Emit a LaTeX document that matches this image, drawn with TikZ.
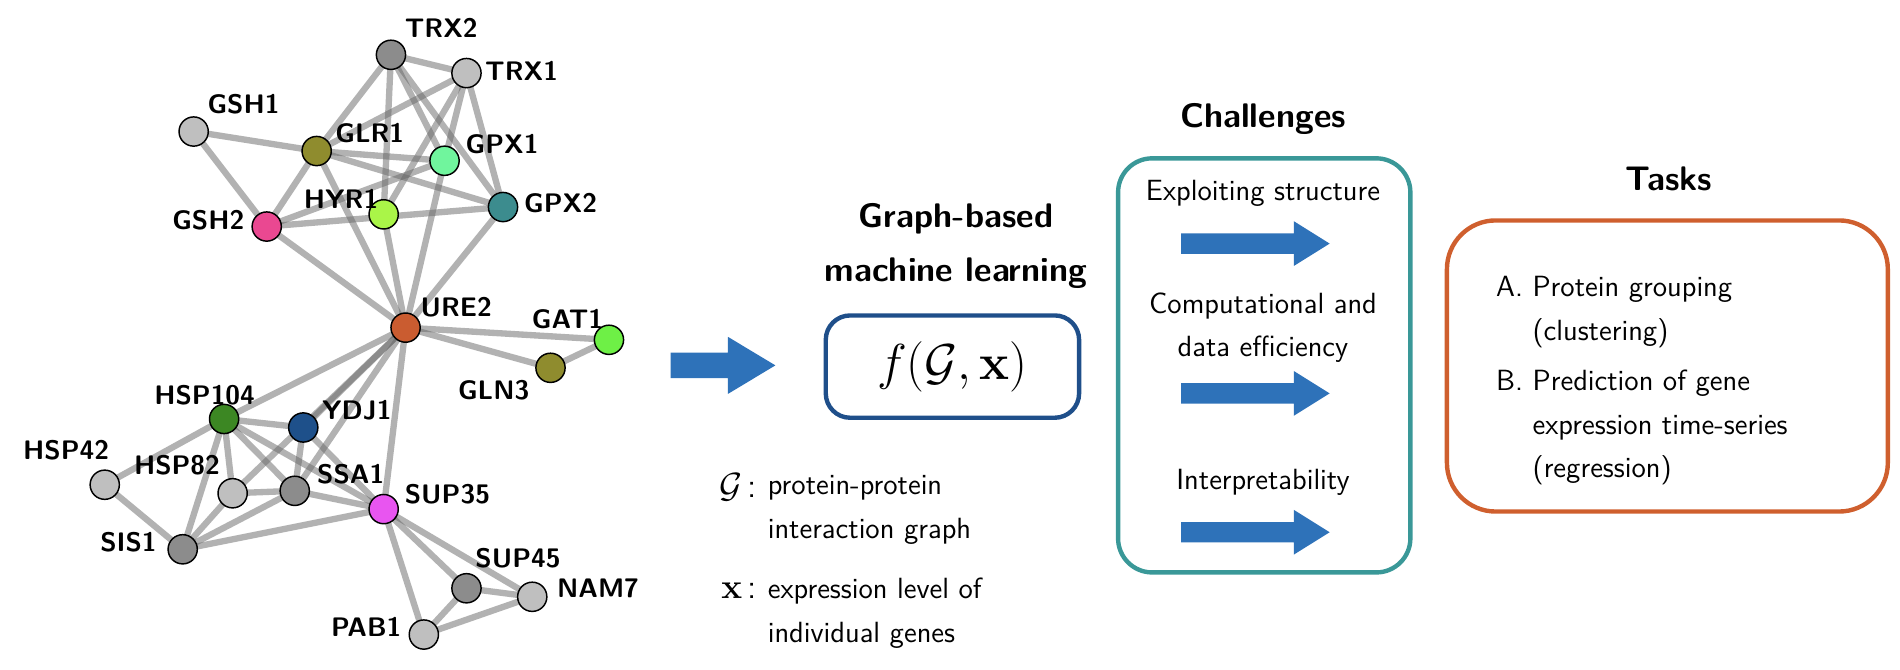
\documentclass[tikz,border=0pt]{standalone}
\usetikzlibrary{shapes.arrows}
\definecolor{ablue}{HTML}{2E72B9}
\definecolor{dblue}{HTML}{1F4F8A}
\definecolor{teal2}{HTML}{3A9898}
\definecolor{orng}{HTML}{CF5F2E}
\begin{document}
\begin{tikzpicture}[x=0.5pt,y=-0.5pt,font=\sffamily,
 nd/.style={circle,draw=black,line width=0.6pt,minimum size=12pt,inner sep=0pt,fill=#1},
 lb/.style={font=\sffamily\bfseries\fontsize{11}{13}\selectfont,inner sep=1pt},
 ed/.style={draw=black!60,opacity=0.5,line width=2.6pt},
 bar/.style={single arrow,fill=ablue,draw=none,minimum height=61pt,minimum width=18pt,single arrow head extend=5pt,single arrow tip angle=64,inner xsep=0pt,inner ysep=4pt},
 tx/.style={font=\sffamily\fontsize{12}{14}\selectfont,inner sep=0pt},
 ttl/.style={font=\sffamily\bfseries\fontsize{14}{16}\selectfont,inner sep=0pt}]
\useasboundingbox (0,0) rectangle (1560,550);
% nodes
\coordinate (pTRX2) at (321,45); \coordinate (pTRX1) at (383,60);
\coordinate (pGSH1) at (159,108); \coordinate (pGLR1) at (260,124);
\coordinate (pGPX1) at (365,132); \coordinate (pHYR1) at (315,176);
\coordinate (pGSH2) at (219,186); \coordinate (pGPX2) at (413,170);
\coordinate (pURE2) at (333,269); \coordinate (pGAT1) at (500,279);
\coordinate (pGLN3) at (452,302); \coordinate (pHSP104) at (184,344);
\coordinate (pYDJ1) at (249,351); \coordinate (pHSP42) at (86,398);
\coordinate (pHSP82) at (191,405); \coordinate (pSSA1) at (242,403);
\coordinate (pSUP35) at (315,418); \coordinate (pSIS1) at (150,451);
\coordinate (pSUP45) at (383,483); \coordinate (pNAM7) at (437,490);
\coordinate (pPAB1) at (348,521);
\foreach \a/\b in {TRX2/TRX1,TRX2/GLR1,TRX2/HYR1,TRX2/GPX1,TRX2/GPX2,TRX1/GLR1,TRX1/HYR1,TRX1/GPX2,TRX1/GPX1,
 GSH1/GLR1,GSH1/GSH2,GLR1/GPX1,GLR1/GPX2,GLR1/GSH2,GLR1/URE2,GSH2/GPX1,GSH2/GPX2,GSH2/URE2,HYR1/URE2,
 GPX1/URE2,GPX2/URE2,URE2/GAT1,URE2/GLN3,GLN3/GAT1,URE2/HSP104,URE2/YDJ1,URE2/HSP82,URE2/SSA1,URE2/SUP35,
 HSP104/YDJ1,HSP104/HSP42,HSP104/HSP82,HSP104/SIS1,HSP104/SSA1,HSP104/SUP35,YDJ1/SSA1,YDJ1/SUP35,
 HSP82/SSA1,HSP82/SIS1,SSA1/SIS1,SSA1/SUP35,HSP42/SIS1,SIS1/SUP35,SUP35/SUP45,SUP35/NAM7,SUP35/PAB1,
 SUP45/NAM7,SUP45/PAB1,PAB1/NAM7}
 {\draw[ed] (p\a) -- (p\b);}
\foreach \n/\c in {TRX2/black!45,TRX1/black!25,GSH1/black!25,GLR1/{rgb,255:red,143;green,140;blue,46},
 GPX1/{rgb,255:red,112;green,245;blue,157},HYR1/{rgb,255:red,170;green,245;blue,72},
 GSH2/{rgb,255:red,234;green,72;blue,145},GPX2/{rgb,255:red,60;green,140;blue,142},
 URE2/{rgb,255:red,202;green,92;blue,48},GAT1/{rgb,255:red,110;green,240;blue,70},
 GLN3/{rgb,255:red,143;green,140;blue,46},HSP104/{rgb,255:red,60;green,135;blue,35},
 YDJ1/{rgb,255:red,30;green,80;blue,138},HSP42/black!25,HSP82/black!25,SSA1/black!45,
 SUP35/{rgb,255:red,232;green,85;blue,240},SIS1/black!45,SUP45/black!45,NAM7/black!25,PAB1/black!25}
 {\node[nd=\c] (\n) at (p\n) {};}
% labels
\node[lb,anchor=south west] (lTRX2) at (330,33) {TRX2};
\node[lb,anchor=west] (lTRX1) at (396,58) {TRX1};
\node[lb,anchor=south west] (lGSH1) at (168,96) {GSH1};
\node[lb,anchor=south west] (lGLR1) at (273,120) {GLR1};
\node[lb,anchor=west] (lGPX1) at (380,118) {GPX1};
\node[lb,anchor=east] (lHYR1) at (313,163) {HYR1};
\node[lb,anchor=east] (lGSH2) at (203,181) {GSH2};
\node[lb,anchor=west] (lGPX2) at (428,167) {GPX2};
\node[lb,anchor=south west] (lURE2) at (343,263) {URE2};
\node[lb,anchor=south] (lGAT1) at (466,272) {GAT1};
\node[lb,anchor=east] (lGLN3) at (437,320) {GLN3};
\node[lb,anchor=south] (lHSP104) at (168,335) {HSP104};
\node[lb,anchor=west] (lYDJ1) at (262,337) {YDJ1};
\node[lb,anchor=east] (lHSP42) at (92,370) {HSP42};
\node[lb,anchor=east] (lHSP82) at (183,382) {HSP82};
\node[lb,anchor=west] (lSSA1) at (258,389) {SSA1};
\node[lb,anchor=west] (lSUP35) at (330,406) {SUP35};
\node[lb,anchor=east] (lSIS1) at (131,445) {SIS1};
\node[lb,anchor=west] (lSUP45) at (388,458) {SUP45};
\node[lb,anchor=west] (lNAM7) at (455,483) {NAM7};
\node[lb,anchor=east] (lPAB1) at (332,515) {PAB1};
% middle
\node[bar,minimum height=43pt,minimum width=23pt,single arrow head extend=6.5pt,single arrow tip angle=62,inner ysep=5pt] (a0) at (585,300) {};
\node[ttl,align=center] (gml) at (785,202) {Graph-based\\[6pt]machine learning};
\node[draw=dblue,line width=1.8pt,rounded corners=10pt,minimum width=104pt,minimum height=42pt] (f) at (782,301)
 {\fontsize{21}{24}\selectfont$f(\mathcal{G},\mathbf{x})$};
\node[tx,anchor=east] (gs) at (622,400) {\fontsize{14}{14}\selectfont$\mathcal{G}$\,:};
\node[tx,anchor=north west,align=left] (gt) at (630,390) {protein-protein\\[4pt]interaction graph};
\node[tx,anchor=east] (xs) at (622,485) {\fontsize{14}{14}\selectfont$\mathbf{x}$\,:};
\node[tx,anchor=north west,align=left] (xt) at (630,474) {expression level of\\[4pt]individual genes};
% challenges
\node[ttl] (ch) at (1037,98) {Challenges};
\draw[teal2,line width=1.8pt,rounded corners=14pt] (918,130) rectangle (1158,470);
\node[tx] (c1) at (1037,159) {Exploiting structure};
\node[bar] (a1) at (1024,200) {};
\node[tx,align=center] (c2) at (1037,269) {Computational and\\[4pt]data efficiency};
\node[bar] (a2) at (1024,323) {};
\node[tx] (c3) at (1037,396) {Interpretability};
\node[bar] (a3) at (1024,437) {};
% tasks
\node[ttl] (tk) at (1370,147) {Tasks};
\draw[orng,line width=1.8pt,rounded corners=20pt] (1188,181) rectangle (1550,420);
\node[tx,anchor=west,align=left] (t1) at (1228,256) {A. Protein grouping\\[4pt]\phantom{A. }(clustering)};
\node[tx,anchor=west,align=left] (t2) at (1228,351) {B. Prediction of gene\\[4pt]\phantom{B. }expression time-series\\[4pt]\phantom{B. }(regression)};
\end{tikzpicture}
\end{document}
